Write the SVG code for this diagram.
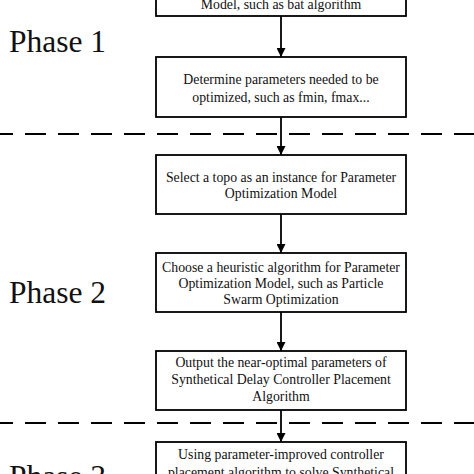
<svg xmlns="http://www.w3.org/2000/svg" width="474" height="474" viewBox="0 0 474 474">
<style>
.box{fill:#fff;stroke:#000;stroke-width:1.8}
.t{font-family:"Liberation Serif","Times New Roman",serif;font-size:13.8px;fill:#111;text-anchor:middle}
.ph{font-family:"Liberation Serif","Times New Roman",serif;font-size:31.5px;fill:#111}
.dash{stroke:#000;stroke-width:1.8;stroke-dasharray:21 12;stroke-dashoffset:8;fill:none}
.conn{stroke:#000;stroke-width:1.8;fill:none}
</style>
<defs>
<marker id="ah" viewBox="0 0 10 10" refX="10" refY="5" markerWidth="9" markerHeight="9" markerUnits="userSpaceOnUse" orient="auto">
<path d="M0,0 L10,5 L0,10 z" fill="#000"/>
</marker>
</defs>
<rect width="474" height="474" fill="#fff"/>
<g id="phases">
<text class="ph" x="9" y="52">Phase 1</text>
<text class="ph" x="9" y="303">Phase 2</text>
<text class="ph" x="9" y="487">Phase 3</text>
</g>
<g id="separators">
<line class="dash" x1="0" y1="134" x2="474" y2="134"/>
<line class="dash" x1="0" y1="423" x2="474" y2="423"/>
</g>
<g id="connectors">
<line class="conn" x1="281" y1="16" x2="281" y2="57" marker-end="url(#ah)"/>
<line class="conn" x1="281" y1="117" x2="281" y2="155" marker-end="url(#ah)"/>
<line class="conn" x1="281" y1="214" x2="281" y2="253" marker-end="url(#ah)"/>
<line class="conn" x1="281" y1="312" x2="281" y2="351" marker-end="url(#ah)"/>
<line class="conn" x1="281" y1="410" x2="281" y2="442" marker-end="url(#ah)"/>
</g>
<g id="node1">
<rect class="box" x="156" y="-44" width="250" height="60"/>
<text class="t" x="281" y="9">Model, such as bat algorithm</text>
</g>
<g id="node2">
<rect class="box" x="156" y="57" width="250" height="60"/>
<text class="t" x="281" y="84">Determine parameters needed to be</text>
<text class="t" x="281" y="101.5">optimized, such as fmin, fmax...</text>
</g>
<g id="node3">
<rect class="box" x="156" y="155" width="250" height="59"/>
<text class="t" x="281" y="181.5">Select a topo as an instance for Parameter</text>
<text class="t" x="281" y="198">Optimization Model</text>
</g>
<g id="node4">
<rect class="box" x="156" y="253" width="250" height="59"/>
<text class="t" x="281" y="271.5">Choose a heuristic algorithm for Parameter</text>
<text class="t" x="281" y="287.5">Optimization Model, such as Particle</text>
<text class="t" x="281" y="303.5">Swarm Optimization</text>
</g>
<g id="node5">
<rect class="box" x="156" y="351" width="250" height="59"/>
<text class="t" x="281" y="367">Output the near-optimal parameters of</text>
<text class="t" x="281" y="384">Synthetical Delay Controller Placement</text>
<text class="t" x="281" y="401">Algorithm</text>
</g>
<g id="node6">
<rect class="box" x="156" y="442" width="250" height="60"/>
<text class="t" x="281" y="458.5">Using parameter-improved controller</text>
<text class="t" x="281" y="477">placement algorithm to solve Synthetical</text>
</g>
</svg>
